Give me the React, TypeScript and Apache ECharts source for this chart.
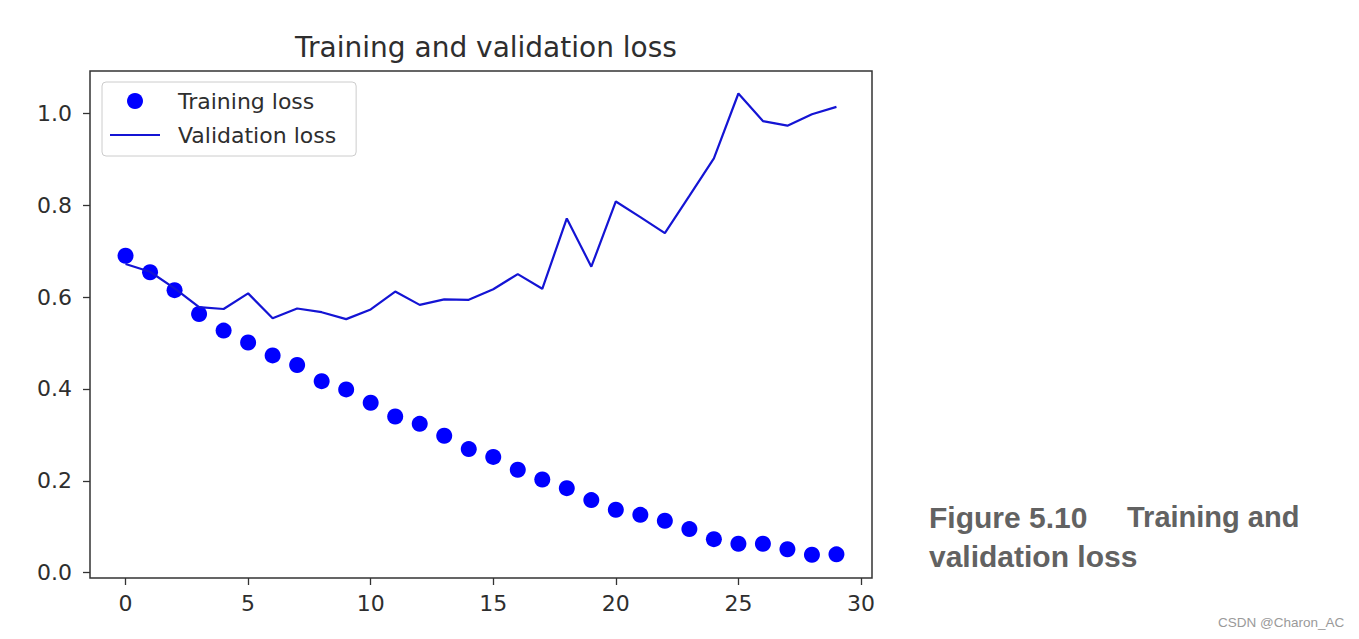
import React, { useEffect, useRef } from "react";
import * as echarts from "echarts";

const epochs = [0,1,2,3,4,5,6,7,8,9,10,11,12,13,14,15,16,17,18,19,20,21,22,23,24,25,26,27,28,29];
const trainingLoss = [0.690, 0.654, 0.615, 0.563, 0.527, 0.501, 0.473, 0.452, 0.417, 0.399, 0.370, 0.340, 0.324, 0.298, 0.269, 0.252, 0.224, 0.203, 0.184, 0.158, 0.137, 0.126, 0.113, 0.095, 0.073, 0.063, 0.063, 0.051, 0.039, 0.040];
const validationLoss = [0.672, 0.655, 0.619, 0.578, 0.574, 0.608, 0.554, 0.575, 0.567, 0.552, 0.573, 0.612, 0.583, 0.595, 0.594, 0.617, 0.650, 0.618, 0.771, 0.666, 0.808, 0.774, 0.739, 0.820, 0.902, 1.043, 0.983, 0.973, 0.998, 1.014];
const xTicks = [0, 5, 10, 15, 20, 25, 30];
const yTicks = [0, 0.2, 0.4, 0.6, 0.8, 1.0];
const chartTitle = "Training and validation loss";
const seriesNames = ["Training loss", "Validation loss"];
const captionLine1a = "Figure 5.10";
const captionLine1b = "Training and";
const captionLine2 = "validation loss";
const watermark = "CSDN @Charon_AC";

const FONT = "DejaVu Sans";
const INK = "#2e2e2e";
const LINE_ICON = "path://M0,0 M50,16 M0,6.9 L50,6.9 L50,9.1 L0,9.1 Z";

export default function App() {
  const ref = useRef<HTMLDivElement>(null);
  useEffect(() => {
    if (!ref.current) return;
    const chart = echarts.init(ref.current, undefined, { renderer: "svg" });
    chart.setOption({
      animation: false,
      backgroundColor: "#ffffff",
      title: {
        text: chartTitle,
        left: 481,
        top: 28,
        textAlign: "center",
        textStyle: { fontFamily: FONT, fontSize: 28, fontWeight: "normal", color: INK },
      },
      legend: {
        orient: "vertical",
        left: 102,
        top: 82,
        itemWidth: 50,
        itemHeight: 16,
        itemGap: 10,
        padding: [7, 20, 9, 8],
        backgroundColor: "#ffffff",
        borderColor: "#cccccc",
        borderWidth: 1,
        borderRadius: 4,
        textStyle: { fontFamily: FONT, fontSize: 22, lineHeight: 24, color: INK, padding: [0, 0, 0, 13] },
        data: [
          { name: seriesNames[0], icon: "circle" },
          { name: seriesNames[1], icon: LINE_ICON },
        ],
      },
      grid: {
        left: 90,
        right: 487,
        top: 71,
        bottom: 61,
        show: true,
        borderColor: "#333333",
        borderWidth: 1.5,
        backgroundColor: "transparent",
      },
      xAxis: {
        type: "value",
        min: -1.45,
        max: 30.45,
        axisLine: { show: false, onZero: false },
        splitLine: { show: false },
        axisTick: { show: true, length: 7, customValues: xTicks, lineStyle: { color: "#333333", width: 1.3 } },
        axisLabel: {
          customValues: xTicks,
          margin: 14,
          fontFamily: FONT,
          fontSize: 22,
          color: INK,
        },
      },
      yAxis: {
        type: "value",
        min: -0.0115,
        max: 1.092,
        axisLine: { show: false, onZero: false },
        splitLine: { show: false },
        axisTick: { show: true, length: 7, customValues: yTicks, lineStyle: { color: "#333333", width: 1.3 } },
        axisLabel: {
          customValues: yTicks,
          margin: 18,
          fontFamily: FONT,
          fontSize: 22,
          color: INK,
          formatter: (v: number) => v.toFixed(1),
        },
      },
      series: [
        {
          name: seriesNames[0],
          type: "scatter",
          symbol: "circle",
          symbolSize: 16,
          itemStyle: { color: "#0000ff", opacity: 1 },
          data: epochs.map((e, i) => [e, trainingLoss[i]]),
          z: 2,
        },
        {
          name: seriesNames[1],
          type: "line",
          symbol: "none",
          showSymbol: false,
          lineStyle: { color: "#1414d4", width: 2.2 },
          itemStyle: { color: "#1414d4" },
          data: epochs.map((e, i) => [e, validationLoss[i]]),
          z: 3,
        },
      ],
      graphic: [
        {
          type: "text",
          left: 929,
          top: 502,
          style: { text: captionLine1a, font: "bold 30px 'Liberation Sans', Arial, sans-serif", fill: "#626262" },
        },
        {
          type: "text",
          left: 1127,
          top: 502,
          style: { text: captionLine1b, font: "bold 29px 'Liberation Sans', Arial, sans-serif", fill: "#626262" },
        },
        {
          type: "text",
          left: 929,
          top: 541,
          style: { text: captionLine2, font: "bold 30px 'Liberation Sans', Arial, sans-serif", fill: "#626262" },
        },
        {
          type: "text",
          left: 1218,
          top: 615,
          style: { text: watermark, font: "13.5px 'Liberation Sans', Arial, sans-serif", fill: "#9a9a9a" },
        },
      ],
    });
    return () => chart.dispose();
  }, []);
  return (
    <div
      ref={ref}
      style={{ position: "absolute", left: 0, top: 0, width: 1359, height: 639, background: "#fff" }}
    />
  );
}
